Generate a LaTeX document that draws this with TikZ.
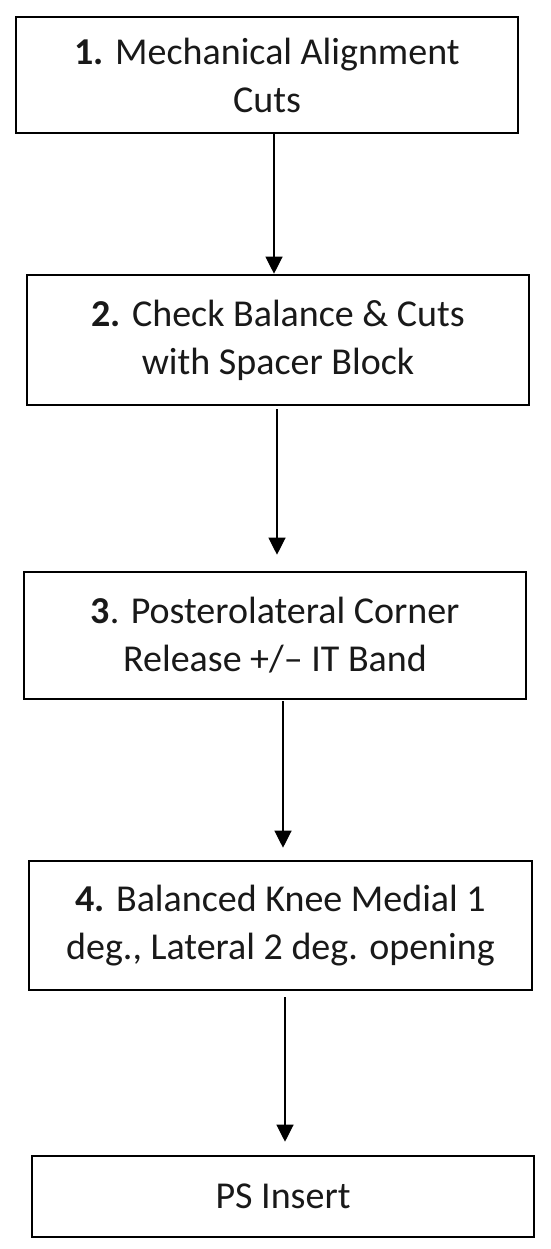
\documentclass[tikz,border=0pt]{standalone}
\usepackage{fontspec}
\setmainfont{Carlito}
\usetikzlibrary{arrows.meta}
\begin{document}
\begin{tikzpicture}[x=1pt,y=-1pt,
  box/.style={draw=black, line width=2.6pt, inner sep=0pt, align=center,
    font=\fontsize{38}{48}\selectfont, text=black!90},
  arr/.style={-{Triangle[width=17pt,length=17pt]}, line width=1.2pt}]
\useasboundingbox (0,0) rectangle (550,1249);
\node[box, minimum width=502pt, minimum height=116pt] (b1) at (267,75)
  {\textbf{1.} Mechanical Alignment\\Cuts};
\node[box, minimum width=502pt, minimum height=130pt] (b2) at (278,340)
  {\textbf{2.} Check Balance \& Cuts\\with Spacer Block};
\node[box, minimum width=502pt, minimum height=127pt] (b3) at (275,635.5)
  {\textbf{3}. Posterolateral Corner\\Release +/– IT Band};
\node[box, minimum width=503pt, minimum height=129pt] (b4) at (280.5,925.5)
  {\textbf{4.} Balanced Knee Medial 1\\deg., Lateral 2 deg. opening};
\node[box, minimum width=502pt, minimum height=81pt] (b5) at (283,1196.5)
  {PS Insert};
\draw[arr] ([xshift=7pt]b1.south) -- ([xshift=7pt]b1.south |- b2.north);
\draw[arr, shorten <=3pt, shorten >=16pt] ([xshift=-1pt]b2.south) -- ([xshift=-1pt]b2.south |- b3.north);
\draw[arr, shorten <=1pt, shorten >=12pt] ([xshift=8pt]b3.south) -- ([xshift=8pt]b3.south |- b4.north);
\draw[arr, shorten <=6pt, shorten >=13pt] ([xshift=4.5pt]b4.south) -- ([xshift=4.5pt]b4.south |- b5.north);
\end{tikzpicture}
\end{document}
